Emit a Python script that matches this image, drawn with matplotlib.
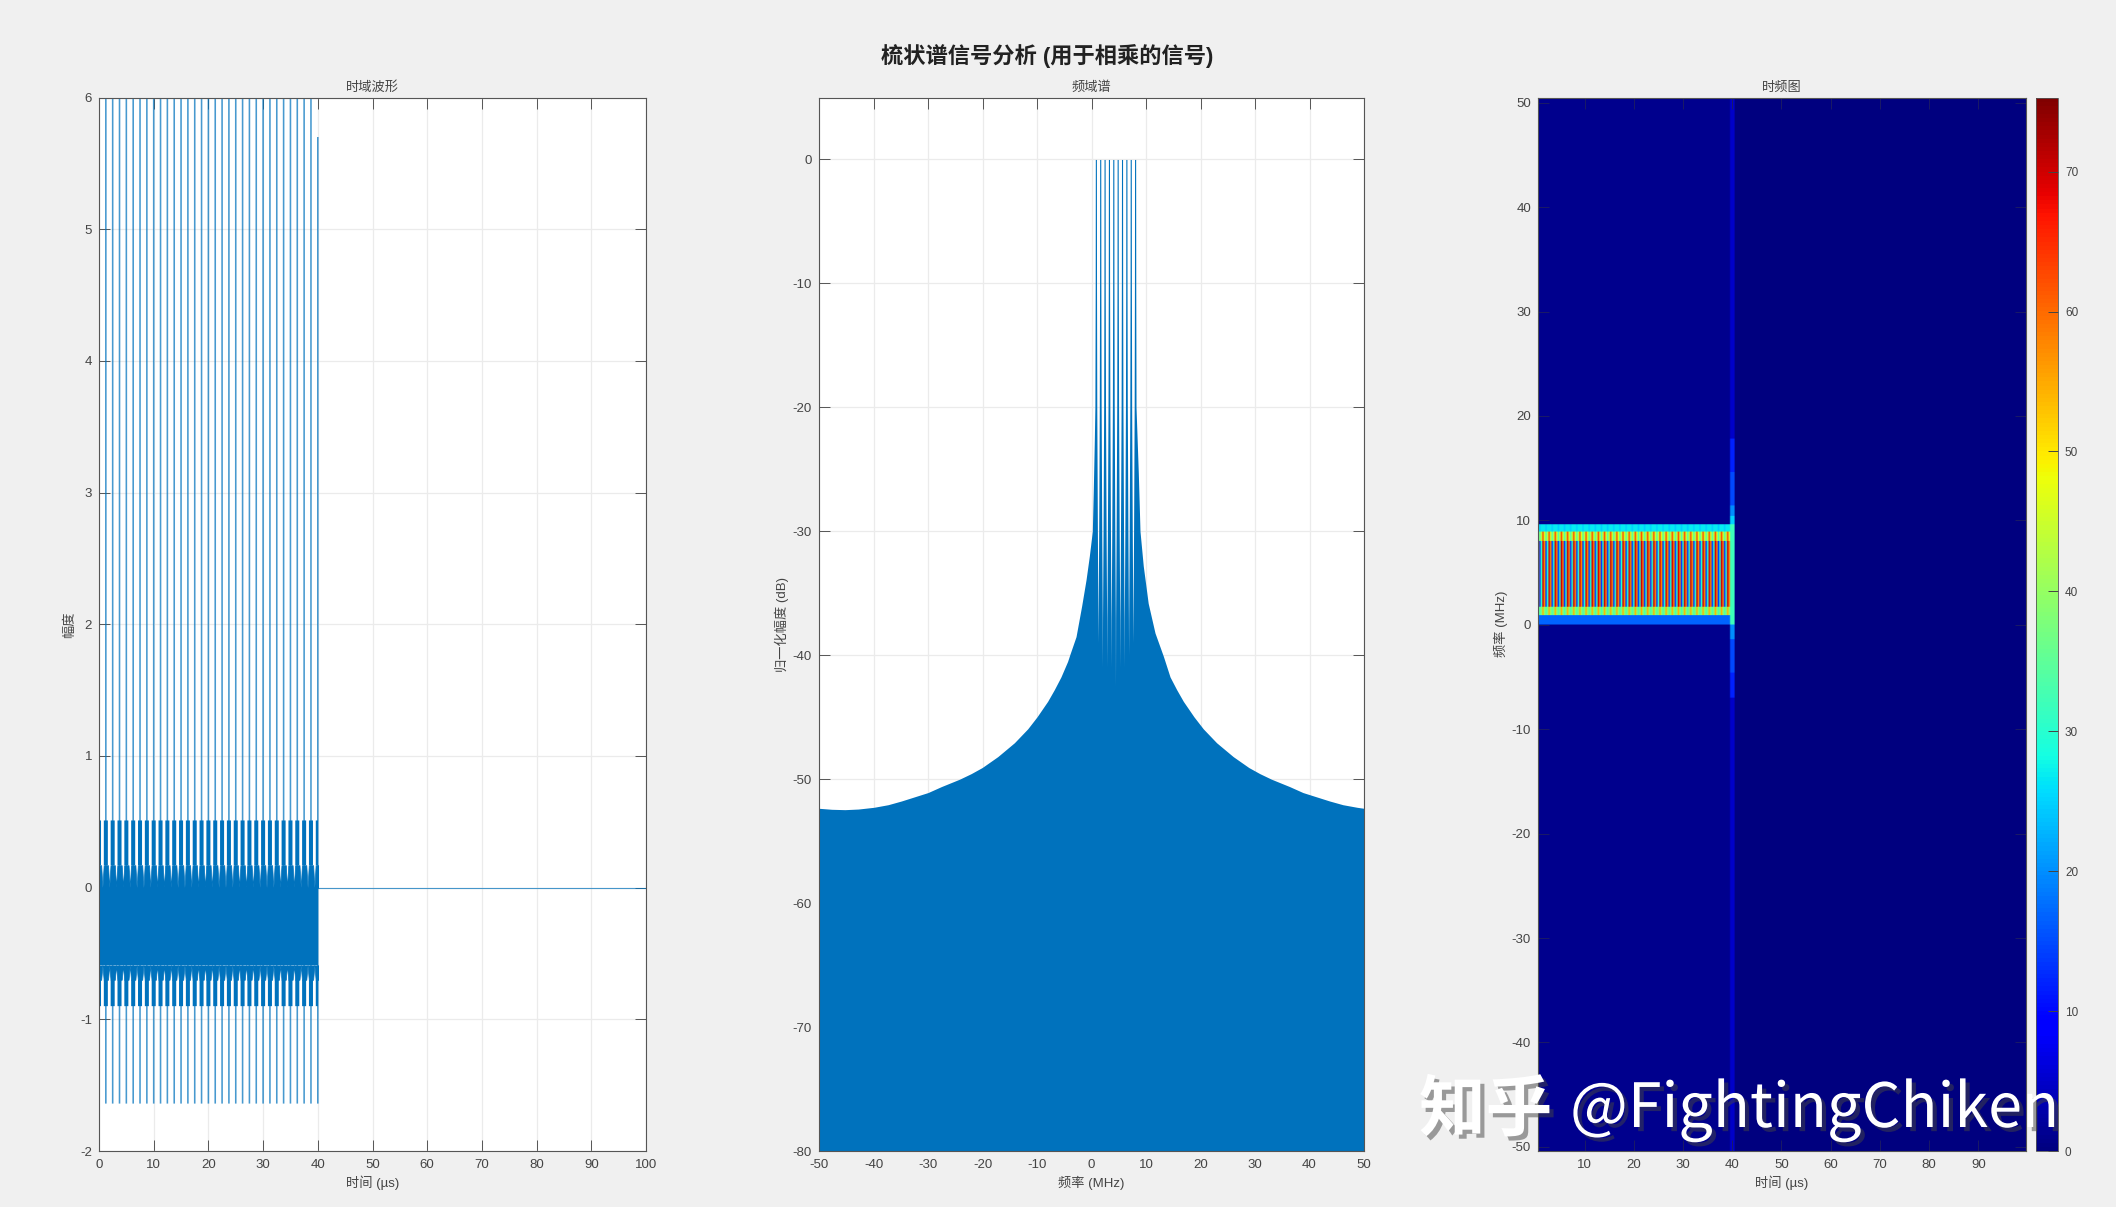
import matplotlib
matplotlib.use("Agg")
import matplotlib.pyplot as plt
import matplotlib.patheffects as pe
from matplotlib.patches import Rectangle
import numpy as np

plt.rcParams['font.family'] = ['Liberation Sans', 'Noto Sans CJK SC', 'DejaVu Sans']
plt.rcParams['axes.unicode_minus'] = False

W, H = 2116, 1207
BLUE = '#0072BD'
GREY = '#444444'

# time domain: one spike per pulse
pulse_t = [0, 1.25, 2.5, 3.75, 5, 6.25, 7.5, 8.75, 10, 11.25, 12.5, 13.75, 15, 16.25, 17.5, 18.75, 20,
           21.25, 22.5, 23.75, 25, 26.25, 27.5, 28.75, 30, 31.25, 32.5, 33.75, 35, 36.25, 37.5, 38.75, 40]
pulse_peak = [6.4] * 32 + [5.7]
pulse_floor = -1.64
shoulder_hi = [0.17, 0.51]
shoulder_lo = [-0.90, -0.70]
core = [-0.59, 0.0]
tail_time = [40, 100]
tail_amp = [0, 0]

# spectrum envelope in dB, left and right of the comb
env_left_f = [-50, -47.68, -45.24, -42.8, -39.94, -37.32, -34.88, -32.44, -30, -27.56, -24.2, -22.07, -20.06,
              -17.2, -14.15, -11.71, -10, -8.05, -6.83, -5.61, -4.39, -3.94, -2.84, -1.8, -1.0, -0.4, 0.15,
              0.33, 0.52, 0.62]
env_left_db = [-52.35, -52.43, -52.46, -52.41, -52.27, -52.06, -51.76, -51.42, -51.08, -50.6, -50, -49.55, -49.06,
               -48.18, -47.06, -45.94, -44.97, -43.72, -42.78, -41.75, -40.5, -39.9, -38.5, -36, -33.9, -32, -30,
               -26.7, -22.6, -20]
env_right_f = [8.17, 8.59, 8.9, 9.5, 10.4, 11.65, 13.2, 14.41, 15.63, 16.85, 18.8, 20.51, 22.95, 26.0, 28.86,
               30.87, 33, 36.36, 38.8, 41.24, 43.68, 46.12, 48.74, 50]
env_right_db = [-20, -25.3, -30, -32.8, -35.8, -38.2, -40.1, -41.75, -42.78, -43.72, -44.97, -45.94, -47.06, -48.18,
                -49.06, -49.55, -50, -50.6, -51.08, -51.42, -51.76, -52.06, -52.27, -52.35]
comb_f = [0.8, 1.6, 2.4, 3.2, 4.0, 4.8, 5.6, 6.4, 7.2, 8.0]
valley_db = [-39, -41, -41, -41, -42.6, -41, -41, -40, -39]
peak_off = [0.10, 0.12, 0.17, 0.28, 0.375]
peak_db = [0, -10, -20, -30, -37]

# spectrogram levels, four phases per pulse period
band_lo = [8.9, 8.0, 1.7, 0.9, 0.0]
band_hi = [9.6, 8.9, 8.0, 1.7, 0.9]
band_phase = [[27, 27, 25, 27],
              [62, 46, 34, 44],
              [70, 58, 14, 30],
              [54, 40, 33, 38],
              [17, 17, 17, 17]]
edge_lo = [-50.5, -7.0, -4.6, -1.4, 0.0, 9.6, 10.4, 11.4, 14.6, 17.8]
edge_hi = [-7.0, -4.6, -1.4, 0.0, 9.6, 10.4, 11.4, 14.6, 17.8, 50.5]
edge_val = [5, 12, 15, 20, 32, 25, 20, 15, 12, 5]
bg_before = 1
bg_after = 0
level_max = 75.3

x1_ticks = [0, 10, 20, 30, 40, 50, 60, 70, 80, 90, 100]
y1_ticks = [-2, -1, 0, 1, 2, 3, 4, 5, 6]
x2_ticks = [-50, -40, -30, -20, -10, 0, 10, 20, 30, 40, 50]
y2_ticks = [-80, -70, -60, -50, -40, -30, -20, -10, 0]
x3_ticks = [10, 20, 30, 40, 50, 60, 70, 80, 90]
y3_ticks = [-50, -40, -30, -20, -10, 0, 10, 20, 30, 40, 50]
c_ticks = [0, 10, 20, 30, 40, 50, 60, 70]


def px_axes(x0, x1, y0=97.5, y1=1151):
    return fig.add_axes([x0 / W, 1 - y1 / H, (x1 - x0) / W, (y1 - y0) / H])


def dress(ax, xticks, yticks, title, xlabel, ylabel):
    ax.set_xticks(xticks)
    ax.set_yticks(yticks)
    ax.grid(True, color='#ebebeb', lw=0.9)
    ax.set_axisbelow(True)
    ax.tick_params(direction='in', length=8, width=0.7, color='#555555', labelcolor=GREY,
                   labelsize=9.5, top=True, right=True, pad=5)
    ax.tick_params(axis='x', pad=6)
    for s in ax.spines.values():
        s.set_color('#555555')
        s.set_linewidth(0.8)
    ax.set_title(title, fontsize=9.5, color=GREY, pad=5)
    ax.set_xlabel(xlabel, fontsize=9.5, color=GREY, labelpad=3)
    ax.set_ylabel(ylabel, fontsize=9.5, color=GREY, labelpad=3)


fig = plt.figure(figsize=(W / 100, H / 100), dpi=100, facecolor='#f0f0f0')

# --- time domain
ax1 = px_axes(99, 646)
window = Rectangle((pulse_t[0], -3), pulse_t[-1] - pulse_t[0], 10, transform=ax1.transData)
spikes = ax1.vlines(pulse_t, pulse_floor, pulse_peak, color=BLUE, lw=1.15, alpha=0.72)
spikes.set_snap(False)
for lo, hi in (shoulder_hi, shoulder_lo):
    bars = ax1.vlines(pulse_t, lo, hi, color=BLUE, lw=2.9)
    bars.set_snap(False)
    bars.set_clip_path(window)
saw_x = []
saw_up = []
saw_dn = []
for t in pulse_t:
    saw_x += [t - 0.625, t - 0.40, t + 0.40, t + 0.625]
    saw_up += [core[1], shoulder_hi[0], shoulder_hi[0], core[1]]
    saw_dn += [core[0], shoulder_lo[1], shoulder_lo[1], core[0]]
ax1.fill_between(saw_x, core[1], saw_up, facecolor=BLUE, edgecolor=BLUE, lw=0.5).set_clip_path(window)
ax1.fill_between(saw_x, saw_dn, core[0], facecolor=BLUE, edgecolor=BLUE, lw=0.5).set_clip_path(window)
ax1.fill_between([pulse_t[0], pulse_t[-1]], core[0], core[1], color=BLUE, lw=0)
ax1.plot(tail_time, tail_amp, color=BLUE, lw=0.8, alpha=0.7)
ax1.set_xlim(0, 100)
ax1.set_ylim(-2, 6)
dress(ax1, x1_ticks, y1_ticks, '时域波形', '时间 (µs)', '幅度')

# --- spectrum
ax2 = px_axes(819, 1364)
xs = list(env_left_f)
ys = list(env_left_db)
for k, f in enumerate(comb_f):
    if k > 0:
        xs += [f - o for o in peak_off[::-1]]
        ys += peak_db[::-1]
    else:
        xs += [f - o for o in peak_off[1::-1]]
        ys += peak_db[1::-1]
    if k < len(comb_f) - 1:
        xs += [f + o for o in peak_off]
        ys += peak_db
        xs.append((f + comb_f[k + 1]) / 2)
        ys.append(valley_db[k])
    else:
        xs += [f + o for o in peak_off[:2]]
        ys += peak_db[:2]
xs += env_right_f
ys += env_right_db
ax2.fill_between(xs, -90, ys, color=BLUE, lw=0)
ax2.set_xlim(-50, 50)
ax2.set_ylim(-80, 5)
dress(ax2, x2_ticks, y2_ticks, '频域谱', '频率 (MHz)', '归一化幅度 (dB)')

# --- spectrogram, 0.3125 us columns and 0.1 MHz rows
ax3 = px_axes(1538, 2025.5)
t_col = np.arange(1, 320) * 0.3125
f_row = np.arange(-50.55, 50.6, 0.1)
z = np.full((f_row.size, t_col.size), float(bg_after))
z[:, t_col < pulse_t[-1]] = bg_before
for lo, hi, ph in zip(band_lo, band_hi, band_phase):
    rows = (f_row >= lo) & (f_row < hi)
    for j, t in enumerate(t_col):
        if t < pulse_t[-1]:
            z[rows, j] = ph[j % 4]
j_end = int(np.argmin(np.abs(t_col - pulse_t[-1])))
for lo, hi, v in zip(edge_lo, edge_hi, edge_val):
    z[(f_row >= lo) & (f_row < hi), j_end - 1:j_end + 2] = v
im = ax3.imshow(z, origin='lower', aspect='auto', cmap='jet', vmin=0, vmax=level_max,
                extent=[t_col[0] - 0.156, t_col[-1] + 0.156, f_row[0] - 0.05, f_row[-1] + 0.05],
                interpolation='bilinear', interpolation_stage='rgba')
ax3.set_xlim(0.55, 99.6)
ax3.set_ylim(-50.4, 50.5)
dress(ax3, x3_ticks, y3_ticks, '时频图', '时间 (µs)', '频率 (MHz)')
ax3.grid(False)
ax3.tick_params(color='#1a1a66')

cax = px_axes(2036, 2058)
cb = fig.colorbar(im, cax=cax, ticks=c_ticks)
cb.outline.set_edgecolor('#555555')
cb.outline.set_linewidth(0.6)
cax.tick_params(direction='in', length=7, width=0.7, color='#444444', labelcolor=GREY, labelsize=8.5, pad=5)

fig.text(1047 / W, 1 - 56 / H, '梳状谱信号分析 (用于相乘的信号)', ha='center', va='center',
         fontsize=16, fontweight='bold', color='#222222')
shadow = [pe.withSimplePatchShadow(offset=(3, -3), shadow_rgbFace='#444444', alpha=0.5)]
fig.text(1419 / W, 1 - 1111 / H, '知乎', ha='left', va='center', fontsize=48, fontweight='bold',
         color='white', family=['Noto Sans CJK SC', 'DejaVu Sans'], path_effects=shadow)
fig.text(1570 / W, 1 - 1110 / H, '@FightingChiken', ha='left', va='center', fontsize=44,
         color='white', family=['Noto Sans CJK SC', 'DejaVu Sans'], path_effects=shadow)

fig.savefig('out.png', dpi=100, facecolor=fig.get_facecolor())
